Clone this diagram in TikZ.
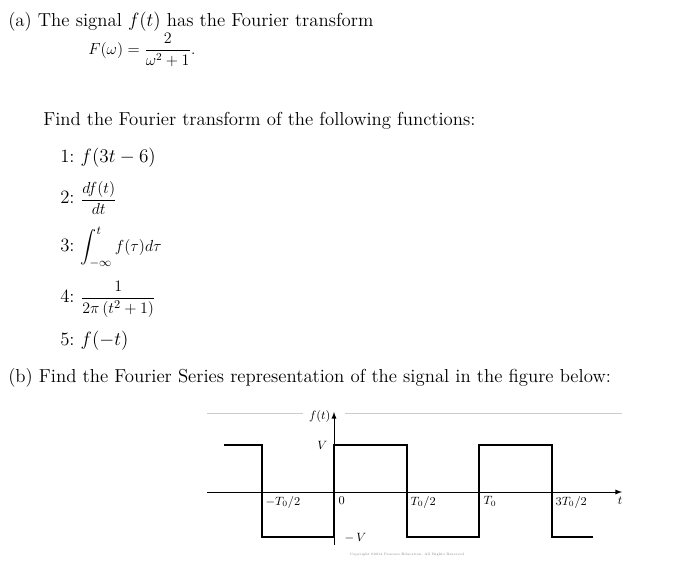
\documentclass[tikz,border=0pt]{standalone}
\usepackage{amsmath}
\begin{document}
\begin{tikzpicture}[x=0.75pt,y=-0.75pt,
  txt/.style={anchor=west,inner sep=0pt,font=\fontsize{14.1}{17}\selectfont},
  lbl/.style={inner sep=1pt,font=\small},
  wave/.style={line width=1.3pt},
  ax/.style={line width=0.7pt,-latex}]
\newcommand{\smm}{\fontsize{12.5}{15}\selectfont}
\useasboundingbox (0,0) rectangle (700,571);
\node[txt] (a) at (8,22) {(a) The signal $f(t)$ has the Fourier transform};
\node[txt,font=\fontsize{12}{14}\selectfont] (F) at (88,50) {$\displaystyle F(\omega)=\frac{2}{\omega^2+1}.$};
\node[txt] (find) at (43,121) {Find the Fourier transform of the following functions:};
\node[txt] (i1) at (60,158) {1:\ $f(3t-6)$};
\node[txt] (i2) at (60,198) {2:\ {\smm$\displaystyle\frac{df(t)}{dt}$}};
\node[txt] (i3) at (60,247) {3:\ {\smm$\displaystyle\int_{-\infty}^{t} f(\tau)d\tau$}};
\node[txt] (i4) at (60,299) {4:\ {\smm$\displaystyle\frac{1}{2\pi\,(t^2+1)}$}};
\node[txt] (i5) at (60,341) {5:\ $f(-t)$};
\node[txt] (b) at (8,378) {(b) Find the Fourier Series representation of the signal in the figure below:};
% figure
\draw[gray!40,line width=0.6pt] (207,413) -- (303,413) (345,413) -- (622,413);
\coordinate (xl) at (207,492); \coordinate (xr) at (622,492);
\coordinate (yb) at (334,545); \coordinate (yt) at (334,412);
\draw[ax] (xl) -- (xr);
\draw[ax] (yb) -- (yt);
\draw[wave] (224,445) -- (262,445) -- (262,537) -- (334,537) -- (334,445) -- (407,445) -- (407,537)
  -- (479,537) -- (479,445) -- (552,445) -- (552,537) -- (593,537);
\node[lbl,anchor=east] (ft) at (332,416) {$f(t)$};
\node[lbl,anchor=east] (V) at (329,445) {$V$};
\node[lbl,anchor=west] (mV) at (343,538) {$-\,V$};
\node[lbl,anchor=north west] (m) at (264,495) {$-T_0/2$};
\node[lbl,anchor=north west] (z) at (337,495) {$0$};
\node[lbl,anchor=north west] (h) at (409,495) {$T_0/2$};
\node[lbl,anchor=north west] (T) at (482,495) {$T_0$};
\node[lbl,anchor=north west] (th) at (554,495) {$3T_0/2$};
\node[lbl,anchor=north] (t) at (620,496) {$t$};
\node[inner sep=0pt,font=\fontsize{2.5}{3}\selectfont,gray] (c) at (407,555) {Copyright \copyright2014 Pearson Education, All Rights Reserved};
\end{tikzpicture}
\end{document}
